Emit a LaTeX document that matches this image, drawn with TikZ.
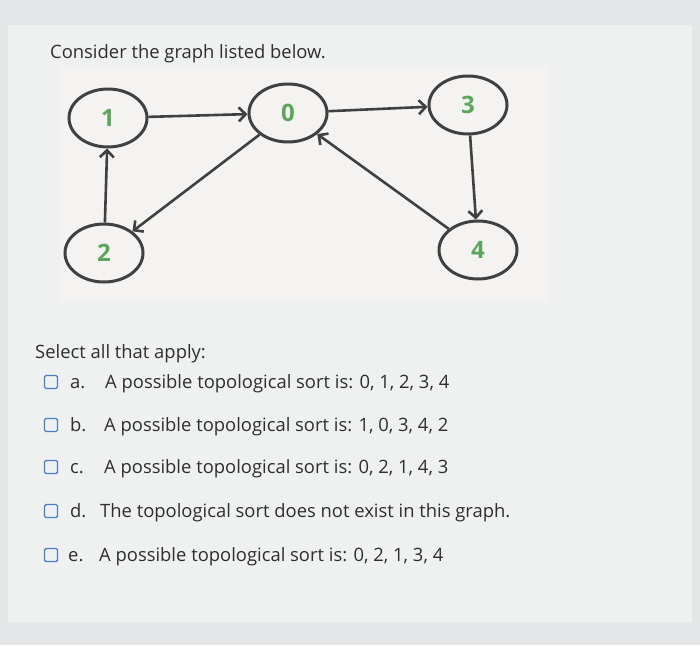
\documentclass[tikz,border=0pt]{standalone}
\usepackage{fontspec}
\setmainfont{Open Sans}
\usetikzlibrary{shapes.geometric,arrows.meta}
\definecolor{bg}{HTML}{E4E6E7}
\definecolor{page}{HTML}{EFF0F0}
\definecolor{panel}{HTML}{F4F3F1}
\definecolor{gr}{HTML}{5BA65B}
\definecolor{txt}{HTML}{2E2E2E}
\definecolor{cb}{HTML}{4A7FC1}
\tikzset{
  vtx/.style={ellipse,draw=black!75,line width=3pt,minimum width=78pt,minimum height=58pt,text=gr,font=\fontsize{24}{28}\selectfont\bfseries},
  edge/.style={draw=black!75,line width=2.6pt,-{Straight Barb[length=7pt,width=14pt]}},
  qtext/.style={anchor=base west,text=txt,font=\fontsize{18.4}{22}\selectfont,inner sep=0pt},
  box/.style={draw=cb,line width=1.4pt,rounded corners=1.5pt,minimum size=13pt,inner sep=0pt}
}
\begin{document}
\begin{tikzpicture}[x=1pt,y=-1pt]
\useasboundingbox (0,0) rectangle (700,645);
\fill[bg] (0,0) rectangle (700,645);
\fill[page] (8,25) rectangle (692,622);
\fill[panel] (60,68) rectangle (548,302);
\node[qtext] (t0) at (50,58) {Consider the graph listed below.};
\node[vtx] (n1) at (108,118) {1};
\node[vtx] (n0) at (288,113) {0};
\node[vtx] (n3) at (468,105) {3};
\node[vtx] (n2) at (104,253) {2};
\node[vtx] (n4) at (478,250) {4};
\draw[edge] (n1) -- (n0);
\draw[edge] (n0) -- (n3);
\draw[edge] (n3) -- (n4);
\draw[edge] (n2) -- (n1);
\draw[edge] (n0) -- (n2);
\draw[edge] (n4) -- (n0);
\node[qtext] (sel) at (35,358) {Select all that apply:};
\foreach \i/\y/\l/\lx/\tx/\t in {
 a/388/a./70/105/{A possible topological sort is: 0, 1, 2, 3, 4},
 b/431/b./70/104/{A possible topological sort is: 1, 0, 3, 4, 2},
 c/473/c./70/104/{A possible topological sort is: 0, 2, 1, 4, 3},
 d/517/d./70/100/{The topological sort does not exist in this graph.},
 e/561/e./68/99/{A possible topological sort is: 0, 2, 1, 3, 4}}{
  \node[box] (cb\i) at (51,\y-6) {};
  \node[qtext] (l\i) at (\lx,\y) {\l};
  \node[qtext] (o\i) at (\tx,\y) {\t};
}
\end{tikzpicture}
\end{document}
